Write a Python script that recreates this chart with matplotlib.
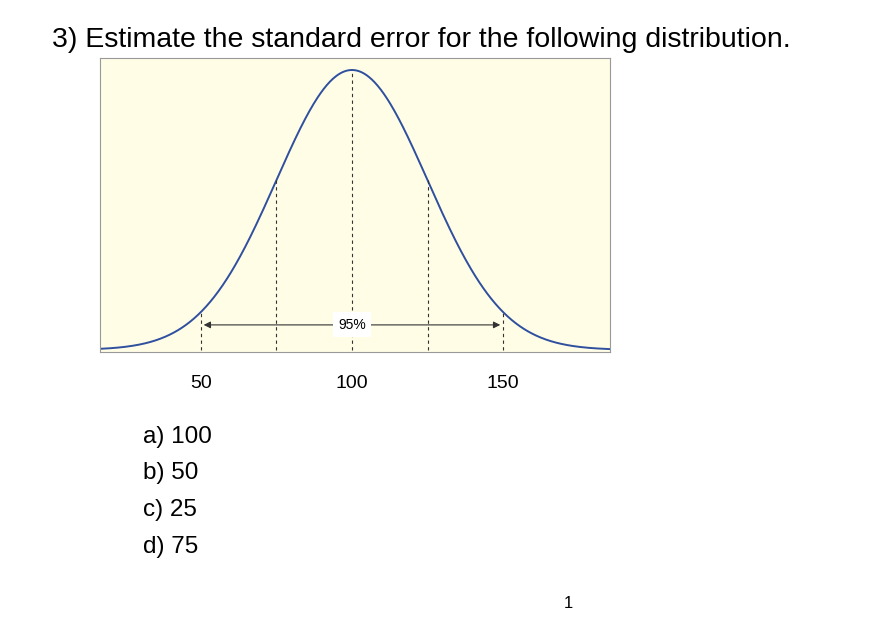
import numpy as np
import matplotlib.pyplot as plt

plt.rcParams['font.family'] = ['Liberation Sans', 'DejaVu Sans']

mean = 100
sd = 25
tick_vals = [50, 100, 150]
answers = ['a) 100', 'b) 50', 'c) 25', 'd) 75']
title = '3) Estimate the standard error for the following distribution.'

def pdf(v):
    return np.exp(-0.5 * ((v - mean) / sd) ** 2) / (sd * np.sqrt(2 * np.pi))

fig = plt.figure(figsize=(8.94, 6.35), dpi=100)
fig.text(52 / 894, 1 - 40 / 635, title, fontsize=20.5, va='center', ha='left')

ax = fig.add_axes([100 / 894, 1 - 352 / 635, 510 / 894, 294 / 635])
ax.set_facecolor('#fffde6')
x = np.linspace(16.6, 185.4, 500)
ax.plot(x, pdf(x), color='#2f4f9f', lw=1.4)
ax.set_xlim(16.6, 185.4)
peak = pdf(mean)
ax.set_ylim(-0.00012, peak * 292 / 280)

arrow_y = peak * 25 / 280
for v in [75, 100, 125]:
    ax.plot([v, v], [0, pdf(v)], color='#333333', ls=(0, (3, 3)), lw=0.8)
for v in [50, 150]:
    ax.plot([v, v], [0, arrow_y * 1.5], color='#333333', ls=(0, (3, 3)), lw=0.8)
ax.annotate('', xy=(50, arrow_y), xytext=(100, arrow_y),
            arrowprops=dict(arrowstyle='-|>', color='#333333', lw=0.8))
ax.annotate('', xy=(150, arrow_y), xytext=(100, arrow_y),
            arrowprops=dict(arrowstyle='-|>', color='#333333', lw=0.8))
ax.text(100, arrow_y, '95%', ha='center', va='center', fontsize=10,
        bbox=dict(facecolor='white', edgecolor='none', pad=4))
ax.set_xticks([])
ax.set_yticks([])
for s in ax.spines.values():
    s.set_color('#999999')
    s.set_linewidth(0.8)
for v in tick_vals:
    ax.text(v, -0.0019, str(v), ha='center', va='center', fontsize=14)

for i, a in enumerate(answers):
    fig.text(143 / 894, 1 - (437 + i * 36.5) / 635, a, fontsize=17.5, va='center')
fig.text(568 / 894, 1 - 604 / 635, '1', fontsize=12, ha='center', va='center')

fig.savefig('out.png', dpi=100)
